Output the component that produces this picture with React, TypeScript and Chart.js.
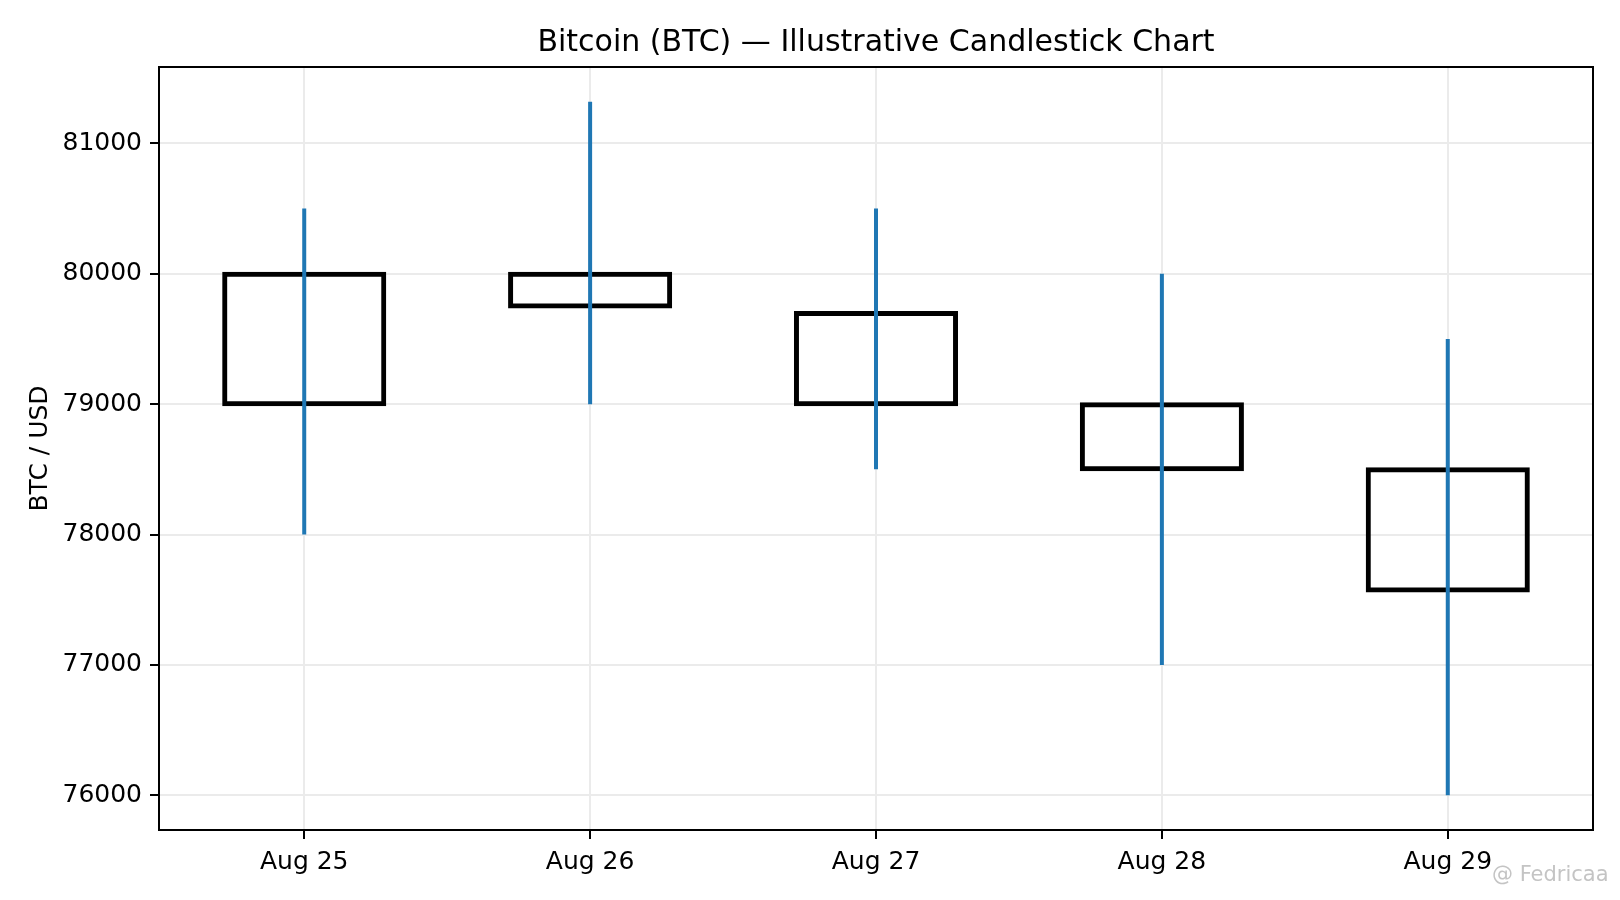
import React, { useEffect, useRef } from "react";
import { Chart, registerables } from "chart.js";

Chart.register(...registerables);

const categories = ["Aug 25", "Aug 26", "Aug 27", "Aug 28", "Aug 29"];
const opens = [80000, 80000, 79700, 79000, 78500];
const closes = [79000, 79750, 79000, 78500, 77570];
const highs = [80500, 81320, 80500, 80000, 79500];
const lows = [78000, 79000, 78500, 77000, 76000];
const yTickValues = [76000, 77000, 78000, 79000, 80000, 81000];
const bodyWidth = 0.56;

const titleText = "Bitcoin (BTC) — Illustrative Candlestick Chart";
const yAxisTitle = "BTC / USD";
const watermark = "@ Fedricaa";

const FONT = "'DejaVu Sans', sans-serif";

const framePlugin = {
  id: "frame",
  afterDraw(chart: any) {
    const { ctx, chartArea } = chart;
    const { left, top, right, bottom } = chartArea;
    ctx.save();
    ctx.strokeStyle = "#000";
    ctx.lineWidth = 2;
    ctx.strokeRect(left, top, right - left, bottom - top);
    ctx.restore();
  },
};

export default function App() {
  const canvasRef = useRef<HTMLCanvasElement | null>(null);

  useEffect(() => {
    if (!canvasRef.current) return;
    const allVals = [...highs, ...lows];
    const dMin = Math.min(...allVals);
    const dMax = Math.max(...allVals);
    const yMargin = (dMax - dMin) * 0.05;

    // x limits like matplotlib autoscale: bar extents plus 5% margin
    const xLo = -bodyWidth / 2;
    const xHi = categories.length - 1 + bodyWidth / 2;
    const xMargin = (xHi - xLo) * 0.05;

    const wickData = lows.map((l, i) => ({ x: i, y: [l, highs[i]] }));
    const bodyData = opens.map((o, i) => ({
      x: i,
      y: [Math.min(o, closes[i]), Math.max(o, closes[i])],
    }));

    const chart = new Chart(canvasRef.current, {
      type: "bar",
      data: {
        datasets: [
          {
            label: "High-Low",
            data: wickData as any,
            backgroundColor: "#1f77b4",
            borderWidth: 0,
            barThickness: 4,
            grouped: false,
            order: 0,
            inflateAmount: 0,
          } as any,
          {
            label: "Open-Close",
            data: bodyData as any,
            backgroundColor: "rgba(0,0,0,0)",
            borderColor: "#000",
            borderWidth: 1,
            inflateAmount: 2,
            borderSkipped: false,
            barPercentage: bodyWidth,
            categoryPercentage: 1,
            grouped: false,
            order: 1,
          } as any,
        ],
      },
      options: {
        animation: false,
        responsive: true,
        maintainAspectRatio: false,
        devicePixelRatio: 1,
        layout: { padding: { left: 0, right: 27, top: 0, bottom: 0 } },
        plugins: {
          legend: { display: false },
          tooltip: { enabled: false },
          title: {
            display: true,
            text: titleText,
            fullSize: false,
            color: "#000",
            font: { family: FONT, size: 30, weight: "normal" },
            padding: { top: 25, bottom: 6 },
          },
        },
        scales: {
          x: {
            type: "linear",
            min: xLo - xMargin,
            max: xHi + xMargin,
            offset: false,
            afterFit: (scale: any) => {
              scale.height = 70;
            },
            afterBuildTicks: (scale: any) => {
              scale.ticks = categories.map((_, i) => ({ value: i }));
            },
            grid: {
              offset: false,
              color: "#ebebeb",
              lineWidth: 2,
              tickColor: "#000",
              tickLength: 9,
              tickWidth: 2,
            },
            border: { display: false },
            ticks: {
              color: "#000",
              font: { family: FONT, size: 25 },
              padding: 8,
              maxRotation: 0,
              autoSkip: false,
              callback: (v: any) => categories[Math.round(Number(v))] ?? "",
            },
          },
          y: {
            type: "linear",
            min: dMin - yMargin,
            max: dMax + yMargin,
            afterFit: (scale: any) => {
              scale.width = 159;
            },
            afterBuildTicks: (scale: any) => {
              scale.ticks = yTickValues.map((v) => ({ value: v }));
            },
            grid: {
              color: "#ebebeb",
              lineWidth: 2,
              tickColor: "#000",
              tickLength: 9,
              tickWidth: 2,
            },
            border: { display: false },
            ticks: {
              color: "#000",
              font: { family: FONT, size: 25 },
              padding: 8,
              callback: (v: any) => String(v),
            },
            title: {
              display: true,
              text: yAxisTitle,
              color: "#000",
              font: { family: FONT, size: 25 },
              padding: { top: 25, bottom: 0 },
            },
          },
        },
      } as any,
      plugins: [framePlugin],
    });
    return () => chart.destroy();
  }, []);

  return (
    <div
      style={{
        position: "absolute",
        left: 0,
        top: 0,
        width: 1620,
        height: 900,
        background: "#fff",
        overflow: "hidden",
      }}
    >
      <canvas ref={canvasRef} />
      <div
        style={{
          position: "absolute",
          left: 1492,
          top: 864,
          fontFamily: FONT,
          fontSize: 21,
          lineHeight: "21px",
          color: "#c4c4c4",
          whiteSpace: "nowrap",
        }}
      >
        {watermark}
      </div>
    </div>
  );
}
